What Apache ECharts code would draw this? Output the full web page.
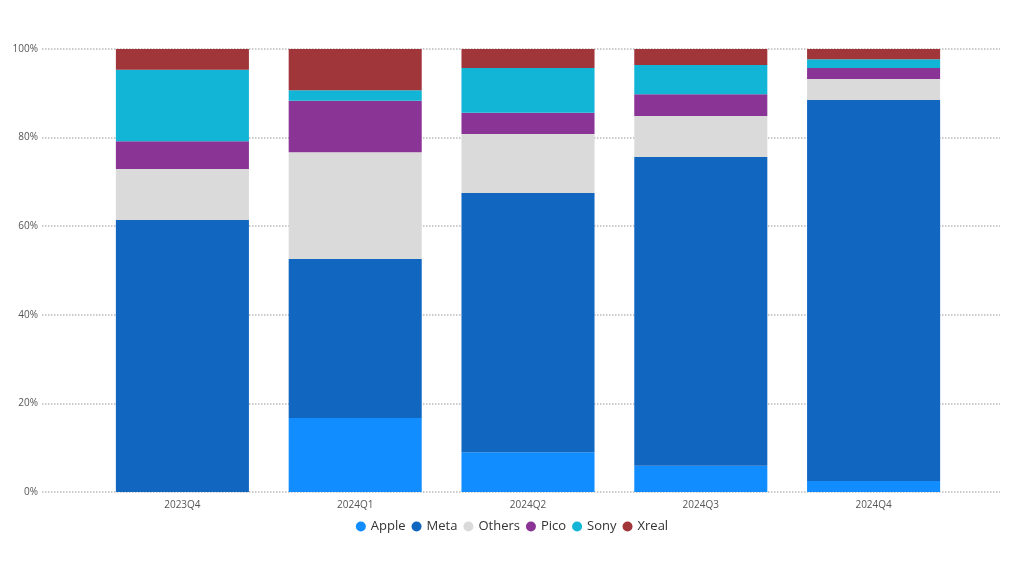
<!DOCTYPE html>
<html><head><meta charset="utf-8">
<script src="https://cdn.jsdelivr.net/npm/echarts@6/dist/echarts.min.js"></script>
<style>html,body{margin:0;padding:0;background:#fff}#chart{width:1024px;height:576px}</style>
</head><body><div id="chart"></div>
<script>
var categories = ['2023Q4', '2024Q1', '2024Q2', '2024Q3', '2024Q4'];
var apple  = [0, 16.7, 9.0, 5.9, 2.5];
var meta   = [61.4, 35.9, 58.5, 69.7, 86.0];
var others = [11.5, 24.1, 13.3, 9.3, 4.7];
var pico   = [6.3, 11.6, 4.8, 4.9, 2.5];
var sony   = [16.1, 2.4, 10.1, 6.6, 2.0];
var xreal  = [4.7, 9.3, 4.3, 3.6, 2.3];
var yTicks = ['0%', '20%', '40%', '60%', '80%', '100%'];

var names = ['Apple', 'Meta', 'Others', 'Pico', 'Sony', 'Xreal'];
var colors = ['#118DFF', '#1166C0', '#DADADA', '#8A3495', '#12B5D6', '#A0353A'];
var values = [apple, meta, others, pico, sony, xreal];

var myChart = echarts.init(document.getElementById('chart'));
var option = {
    animation: false,
    textStyle: { fontFamily: 'Open Sans' },
    // grid 0 carries the full-width gridlines, grid 1 the narrower bar area
    grid: [
        { left: 42, right: 24, top: 49, bottom: 84 },
        { left: 96, right: 64, top: 49, bottom: 84 }
    ],
    legend: {
        bottom: 38, itemWidth: 10, itemHeight: 10, itemGap: 6, icon: 'circle',
        textStyle: { color: '#333', fontSize: 13 },
        data: names
    },
    xAxis: [
        { type: 'category', gridIndex: 0, data: categories, show: false },
        { type: 'category', gridIndex: 1, data: categories,
          axisLine: { show: false }, axisTick: { show: false },
          axisLabel: { color: '#555', fontSize: 10, margin: 8 } }
    ],
    yAxis: [
        { type: 'value', gridIndex: 0, min: 0, max: 100, interval: 20,
          axisLabel: { color: '#555', fontSize: 10, margin: 4,
              formatter: function (v) { return yTicks[v / 20]; } },
          splitLine: { lineStyle: { color: '#bbb', type: 'dotted', width: 1.5 } } },
        { type: 'value', gridIndex: 1, min: 0, max: 100, show: false,
          splitLine: { show: false } }
    ],
    series: names.map(function (n, i) {
        return {
            name: n, type: 'bar', stack: 'total', barCategoryGap: '23%',
            xAxisIndex: 1, yAxisIndex: 1,
            itemStyle: { color: colors[i] }, data: values[i]
        };
    })
};
myChart.setOption(option);
</script></body></html>
